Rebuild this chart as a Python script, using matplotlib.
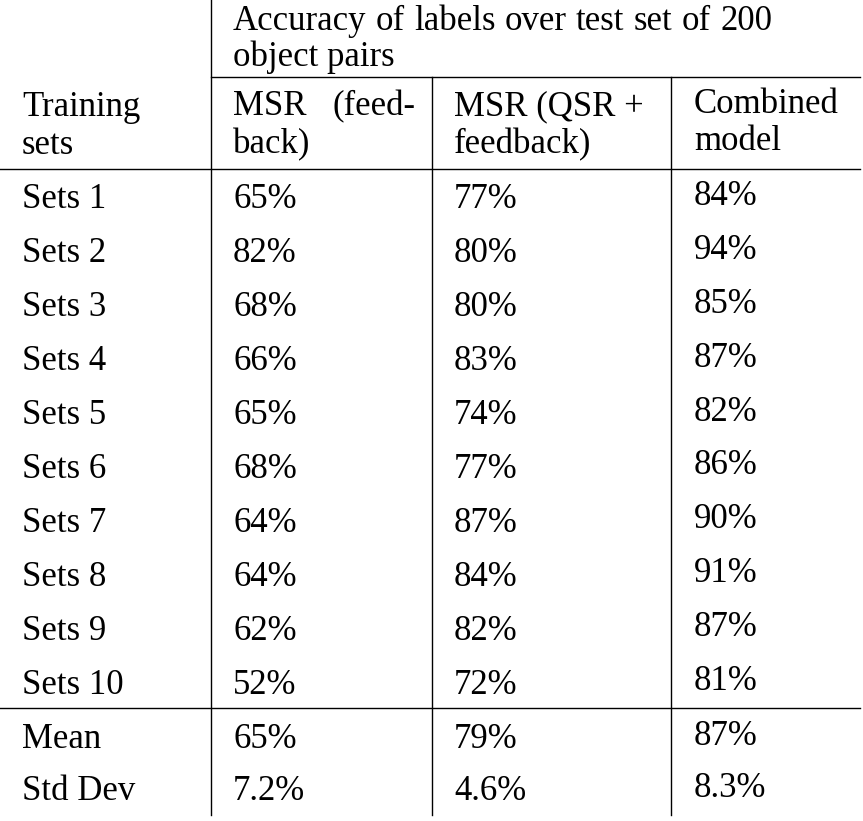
import matplotlib
matplotlib.use('Agg')
import matplotlib.pyplot as plt

# table contents
set_names = ['Sets 1', 'Sets 2', 'Sets 3', 'Sets 4', 'Sets 5',
             'Sets 6', 'Sets 7', 'Sets 8', 'Sets 9', 'Sets 10']
msr_feedback = [65, 82, 68, 66, 65, 68, 64, 64, 62, 52]
msr_qsr_feedback = [77, 80, 80, 83, 74, 77, 87, 84, 82, 72]
combined_model = [84, 94, 85, 87, 82, 86, 90, 91, 87, 81]
summary_names = ['Mean', 'Std Dev']
summary_msr = ['65%', '7.2%']
summary_qsr = ['79%', '4.6%']
summary_comb = ['87%', '8.3%']

W, H = 863, 821
fig = plt.figure(figsize=(W / 100, H / 100), dpi=100)
ax = fig.add_axes([0, 0, 1, 1])
ax.set_xlim(0, W)
ax.set_ylim(H, 0)
ax.axis('off')

fs = 25
font = dict(family=['Liberation Serif', 'DejaVu Serif'], fontsize=fs,
            va='baseline', ha='left', color='black')
lw = 1.0

# column x positions (text) and rule positions, in pixels
col_x = [22, 233, 454, 694]
vlines = [211, 432, 671]
right_edge = 860

# rules
ax.plot([vlines[0], vlines[0]], [0, 815], color='black', lw=lw)
for xv in vlines[1:]:
    ax.plot([xv, xv], [77, 815], color='black', lw=lw)
ax.plot([vlines[0], right_edge], [77, 77], color='black', lw=lw)
ax.plot([0, right_edge], [169, 169], color='black', lw=lw)
ax.plot([0, right_edge], [708, 708], color='black', lw=lw)

# header, first line justified like the latex p-column
words = 'Accuracy of labels over test set of 200'.split()
renderer = fig.canvas.get_renderer()
widths = []
for w in words:
    t = ax.text(0, 0, w, **font)
    widths.append(t.get_window_extent(renderer).width)
    t.remove()
left, right = col_x[1], 772
gap = (right - left - sum(widths)) / (len(words) - 1)
xx = left
for w, wd in zip(words, widths):
    ax.text(xx, 30, w, **font)
    xx += wd + gap

ax.text(col_x[1], 66, 'object pairs', **font)
ax.text(col_x[0], 116, 'Training', **font)
ax.text(col_x[0], 154, 'sets', **font)
ax.text(col_x[1], 115, 'MSR', **font)
ax.text(415, 115, '(feed-', **{**font, 'ha': 'right'})
ax.text(col_x[1], 153, 'back)', **font)
ax.text(col_x[2], 115, 'MSR (QSR +', **font)
ax.text(col_x[2], 153, 'feedback)', **font)
ax.text(col_x[3], 113, 'Combined', **font)
ax.text(col_x[3], 150, 'model', **font)

# body rows
row0 = 208.5
step = 53.9
for i, name in enumerate(set_names):
    yb = row0 + step * i
    ax.text(col_x[0], yb, name, **font)
    ax.text(col_x[1], yb, '%d%%' % msr_feedback[i], **font)
    ax.text(col_x[2], yb, '%d%%' % msr_qsr_feedback[i], **font)
    ax.text(col_x[3], yb - 3.5, '%d%%' % combined_model[i], **font)

# summary rows
for i, name in enumerate(summary_names):
    yb = 748 + 52 * i
    ax.text(col_x[0], yb, name, **font)
    ax.text(col_x[1], yb, summary_msr[i], **font)
    ax.text(col_x[2], yb, summary_qsr[i], **font)
    ax.text(col_x[3], yb - 3, summary_comb[i], **font)

plt.savefig('out.png', dpi=100)
